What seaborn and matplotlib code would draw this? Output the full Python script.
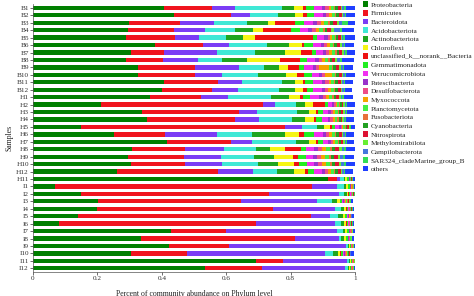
import numpy as np
import pandas as pd
import matplotlib
matplotlib.use("Agg")
import matplotlib.pyplot as plt
from matplotlib.patches import Patch
import seaborn as sns

samples = ["B1", "B2", "B3", "B4", "B5", "B6", "B7", "B8", "B9", "B10", "B11", "B12",
           "H1", "H2", "H3", "H4", "H5", "H6", "H7", "H8", "H9", "H10", "H12", "H11",
           "I1", "I2", "I3", "I4", "I5", "I6", "I7", "I8", "I9", "I10", "I11", "I12"]

phyla = ["Proteobacteria", "Firmicutes", "Bacteroidota", "Acidobacteriota",
         "Actinobacteriota", "Chloroflexi", "unclassified_k__norank__Bacteria",
         "Gemmatimonadota", "Verrucomicrobiota", "Patescibacteria", "Desulfobacterota",
         "Myxococcota", "Planctomycetota", "Fusobacteriota", "Cyanobacteria",
         "Nitrospirota", "Methylomirabilota", "Campilobacterota",
         "SAR324_cladeMarine_group_B", "others"]

colors = ["#007F00", "#F0141E", "#7B3CF5", "#3FE8D6", "#1FA51F", "#F5F514",
          "#EE1111", "#22EE22", "#F030F0", "#9932CC", "#EE4D88", "#F5A300",
          "#44EE44", "#E8703A", "#22A022", "#DD1133", "#66EE33", "#4477DD",
          "#33DD55", "#1F3FFF"]

proteobacteria = [.407, .438, .298, .296, .288, .379, .304, .290, .327, .327, .407, .402,
                  .363, .210, .340, .355, .150, .252, .416, .309, .296, .304, .262, .915,
                  .068, .150, .202, .200, .140, .081, .428, .335, .423, .304, .692, .534]
firmicutes = [.150, .176, .159, .142, .152, .149, .104, .114, .175, .175, .169, .155,
              .159, .505, .301, .273, .632, .159, .199, .164, .173, .168, .313, .029,
              .797, .583, .444, .544, .723, .611, .171, .480, .187, .173, .083, .176]
bacteroidota = [.069, .060, .106, .095, .074, .081, .164, .109, .138, .084, .073, .080,
                .083, .036, .055, .073, .052, .160, .064, .119, .114, .115, .109, .009,
                .079, .216, .236, .195, .059, .246, .344, .135, .362, .430, .199, .259]
acidobacteriota = [.148, .088, .102, .093, .085, .119, .118, .073, .078, .113, .123, .127,
                   .133, .067, .123, .103, .048, .110, .138, .101, .104, .111, .074, .013,
                   .023, .018, .047, .018, .024, .019, .019, .007, .007, .024, .008, .010]
actinobacteriota = [.038, .051, .064, .057, .054, .067, .091, .079, .047, .086, .041, .049,
                    .057, .028, .039, .042, .023, .102, .041, .044, .062, .062, .052, .004,
                    .006, .007, .016, .010, .016, .010, .008, .010, .003, .016, .003, .003]
chloroflexi = [.026, .026, .021, .031, .036, .039, .050, .101, .028, .036, .024, .026,
               .033, .022, .021, .026, .016, .044, .021, .047, .059, .052, .036, .004,
               .004, .004, .007, .005, .006, .005, .004, .004, .002, .007, .002, .002]
unclassified = [.011, .011, .064, .086, .180, .009, .035, .062, .034, .019, .007, .013,
                .010, .038, .007, .007, .007, .016, .007, .047, .016, .013, .009, .002,
                .002, .002, .002, .002, .002, .002, .002, .002, .001, .002, .001, .001]
gemmatimonadota = [.025, .023, .029, .029, .012, .027, .013, .024, .016, .025, .026, .018,
                   .021, .010, .013, .018, .010, .031, .013, .018, .024, .026, .019, .004,
                   .004, .004, .006, .004, .005, .004, .004, .004, .002, .006, .002, .002]
verrucomicrobiota = [.024, .026, .026, .025, .024, .023, .021, .025, .025, .022, .028, .026,
                     .030, .012, .018, .018, .012, .025, .018, .025, .022, .022, .022, .002,
                     .002, .002, .004, .002, .003, .002, .002, .002, .001, .004, .001, .001]
patescibacteria = [.010, .010, .012, .012, .010, .010, .010, .010, .010, .010, .010, .010,
                   .010, .006, .008, .008, .005, .010, .008, .012, .012, .012, .010, .001,
                   .002, .002, .003, .002, .002, .002, .002, .002, .001, .003, .001, .001]
desulfobacterota = [.010, .010, .012, .012, .008, .010, .010, .010, .010, .010, .010, .010,
                    .010, .006, .008, .008, .005, .010, .008, .012, .012, .012, .010, .001,
                    .002, .002, .003, .002, .002, .002, .002, .002, .001, .003, .001, .001]
myxococcota = [.008, .008, .010, .010, .006, .008, .008, .010, .030, .020, .008, .008,
               .010, .005, .006, .006, .004, .008, .006, .012, .012, .012, .008, .001,
               .001, .001, .002, .001, .001, .001, .001, .001, .001, .002, .001, .001]
planctomycetota = [.008, .010, .012, .012, .008, .010, .010, .010, .010, .010, .008, .010,
                   .010, .006, .008, .008, .005, .010, .008, .012, .012, .012, .010, .002,
                   .002, .002, .003, .002, .002, .002, .002, .002, .001, .003, .001, .001]
fusobacteriota = [.005, .005, .006, .006, .004, .005, .005, .005, .005, .005, .005, .005,
                  .005, .003, .004, .004, .003, .005, .004, .006, .006, .006, .005, .001,
                  .001, .001, .002, .001, .001, .001, .001, .001, .001, .002, .001, .001]
cyanobacteria = [.008, .008, .010, .008, .006, .008, .008, .008, .008, .008, .008, .008,
                 .008, .005, .006, .006, .004, .008, .006, .010, .010, .010, .008, .001,
                 .001, .001, .002, .001, .001, .001, .001, .001, .001, .002, .001, .001]
nitrospirota = [.008, .008, .012, .012, .008, .010, .008, .008, .010, .008, .008, .008,
                .008, .005, .006, .006, .004, .008, .006, .012, .012, .012, .008, .001,
                .001, .001, .002, .001, .001, .001, .001, .001, .001, .002, .001, .001]
methylomirabilota = [.006, .006, .008, .008, .005, .006, .006, .006, .006, .006, .006, .006,
                     .006, .004, .005, .005, .003, .006, .005, .008, .008, .008, .006, .001,
                     .001, .001, .002, .001, .001, .001, .001, .001, .001, .002, .001, .001]
campilobacterota = [.005, .004, .008, .020, .004, .005, .005, .010, .005, .005, .004, .004,
                    .005, .003, .004, .004, .002, .005, .004, .008, .008, .008, .005, .001,
                    .001, .001, .002, .001, .001, .001, .001, .001, .001, .002, .001, .001]
sar324 = [.005, .004, .018, .004, .004, .004, .004, .004, .004, .004, .004, .004,
          .004, .003, .003, .003, .002, .004, .003, .006, .006, .006, .004, .001,
          .001, .001, .001, .001, .001, .001, .001, .001, .001, .001, .001, .001]
others = [.028, .028, .023, .040, .033, .028, .028, .040, .028, .028, .025, .023,
          .030, .028, .023, .023, .018, .023, .023, .028, .028, .028, .023, .008,
          .004, .004, .008, .005, .005, .005, .005, .005, .003, .008, .003, .003]

series = [proteobacteria, firmicutes, bacteroidota, acidobacteriota, actinobacteriota,
          chloroflexi, unclassified, gemmatimonadota, verrucomicrobiota, patescibacteria,
          desulfobacterota, myxococcota, planctomycetota, fusobacteriota, cyanobacteria,
          nitrospirota, methylomirabilota, campilobacterota, sar324, others]

df = pd.DataFrame(np.array(series).T, columns=phyla)
df.insert(0, "Sample", samples)
cum = df[phyla].cumsum(axis=1)

sns.set_style("ticks")
plt.rcParams['font.family'] = ['Liberation Serif', 'DejaVu Serif']

fig = plt.figure(figsize=(4.74, 2.96), dpi=100)
ax = fig.add_axes([0.0696, 0.081, 0.6794, 0.905])

for i in reversed(range(len(phyla))):
    sns.barplot(x=cum[phyla[i]].values, y=df["Sample"], orient="h", order=samples,
                color=colors[i], saturation=1, width=0.58, linewidth=0, ax=ax)

ax.set_xlim(0, 1)
ax.set_ylim(len(samples) - 0.5, -0.5)
ax.set_xticks([0, 0.2, 0.4, 0.6, 0.8, 1.0])
ax.set_xticklabels(["0", "0.2", "0.4", "0.6", "0.8", "1"])
ax.tick_params(axis="both", labelsize=5.2, length=2, width=0.5, pad=1, colors="#333333")
ax.set_xlabel("Percent of community abundance on Phylum level", fontsize=5.6, labelpad=6, color="#222222")
ax.set_ylabel("Samples", fontsize=5.6, labelpad=2, color="#222222")
for s in ["top", "right"]:
    ax.spines[s].set_visible(False)
for s in ["left", "bottom"]:
    ax.spines[s].set_linewidth(0.5)
    ax.spines[s].set_color("#555555")

handles = [Patch(facecolor=c, edgecolor="none", label=p) for p, c in zip(phyla, colors)]
leg = fig.legend(handles=handles, loc="upper left", bbox_to_anchor=(0.765, 0.995),
                 frameon=False, fontsize=5.2, handlelength=0.8, handleheight=0.8,
                 handletextpad=0.35, labelspacing=0.33, borderaxespad=0, borderpad=0)
fig.savefig("out.png", dpi=100)
